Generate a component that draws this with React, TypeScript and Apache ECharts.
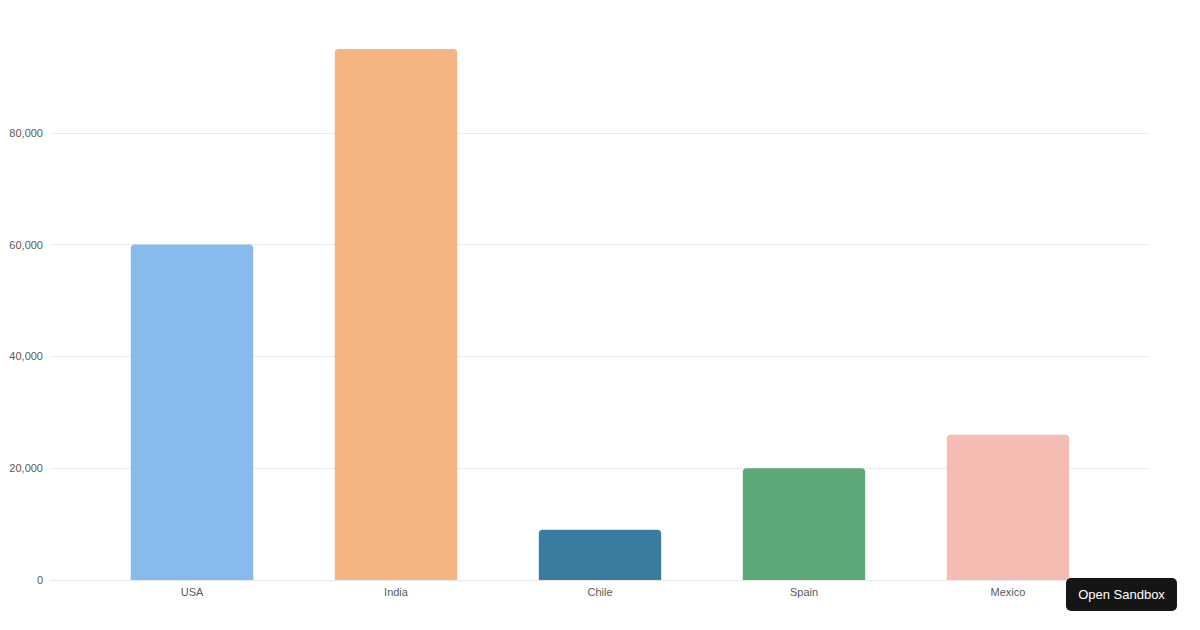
import React, { useEffect, useRef } from 'react';
import * as echarts from 'echarts';

const countries = ['USA', 'India', 'Chile', 'Spain', 'Mexico'];
const population = [60000, 95000, 9000, 20000, 26000];
const barColors = ['#87BBEE', '#F4B583', '#3A7C9E', '#5CA878', '#F4BCB3'];
const yTicks = [0, 20000, 40000, 60000, 80000, 100000];

const App: React.FC = () => {
  const chartRef = useRef<HTMLDivElement>(null);

  useEffect(() => {
    if (!chartRef.current) return;
    const chart = echarts.init(chartRef.current, undefined, { renderer: 'svg' });

    const yMax = yTicks[yTicks.length - 1];
    const yStep = yTicks[1] - yTicks[0];

    const option: echarts.EChartsOption = {
      animation: false,
      textStyle: { fontFamily: '"Liberation Sans", Arial, sans-serif' },
      grid: [
        { left: 50, right: 50, top: 21, bottom: 50 },
        { left: 90, right: 90, top: 21, bottom: 50 }
      ],
      xAxis: [
        {
          type: 'category',
          gridIndex: 0,
          data: [''],
          axisLabel: { show: false },
          axisTick: { show: false },
          axisLine: { show: true, lineStyle: { color: '#e6e6e6' } }
        },
        {
          type: 'category',
          gridIndex: 1,
          data: countries,
          axisLine: { show: false },
          axisTick: { show: false },
          axisLabel: { color: '#5a5a5a', fontSize: 11, margin: 6 }
        }
      ],
      yAxis: [
        {
          type: 'value',
          gridIndex: 0,
          min: 0,
          max: yMax,
          interval: yStep,
          axisLine: { show: false },
          axisTick: { show: false },
          axisLabel: {
            color: '#5a5a5a',
            fontSize: 11,
            margin: 7,
            showMaxLabel: false,
            formatter: (v: number) => v.toLocaleString('en-US')
          },
          splitLine: {
            show: true,
            showMinLine: false,
            showMaxLine: false,
            lineStyle: { color: '#ebebeb' }
          }
        } as any,
        {
          type: 'value',
          gridIndex: 1,
          min: 0,
          max: yMax,
          show: false,
          splitLine: { show: false }
        }
      ],
      series: [
        {
          type: 'bar',
          xAxisIndex: 1,
          yAxisIndex: 1,
          barWidth: '60%',
          data: population.map((v, i) => ({
            value: v,
            itemStyle: { color: barColors[i], borderRadius: [4, 4, 0, 0] }
          }))
        }
      ]
    };

    chart.setOption(option);

    return () => {
      chart.dispose();
    };
  }, []);

  return (
    <div style={{ position: 'absolute', left: 0, top: 0, width: 1200, height: 630, background: '#fff' }}>
      <div ref={chartRef} style={{ width: 1200, height: 630 }} />
      <div
        style={{
          position: 'absolute',
          left: 1066,
          top: 578,
          width: 111,
          height: 33,
          background: '#151515',
          borderRadius: 5,
          color: '#fff',
          fontFamily: '"Liberation Sans", Arial, sans-serif',
          fontSize: 13,
          lineHeight: '33px',
          textAlign: 'center'
        }}
      >
        Open Sandbox
      </div>
    </div>
  );
};

export default App;
